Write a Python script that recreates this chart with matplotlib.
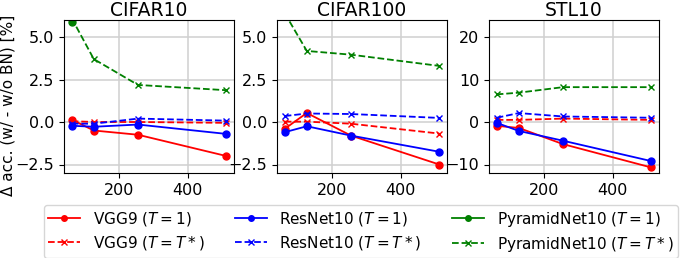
import matplotlib
matplotlib.use("Agg")
import matplotlib.pyplot as plt

widths = [64, 128, 256, 512]
datasets = ["CIFAR10", "CIFAR100", "STL10"]
ylims = [(-3, 6), (-3, 6), (-12, 24)]

# values per dataset (PyramidNet10 T=1 lies mostly above the visible range)
cifar10 = {
    "vgg_t1": [0.14, -0.5, -0.75, -2.0],
    "vgg_ts": [0.05, 0.0, 0.0, -0.05],
    "res_t1": [-0.22, -0.28, -0.15, -0.7],
    "res_ts": [-0.1, -0.1, 0.2, 0.08],
    "pyr_t1": [5.9, 12.0, 14.0, 15.0],
    "pyr_ts": [6.1, 3.7, 2.18, 1.87],
}
cifar100 = {
    "vgg_t1": [-0.4, 0.53, -0.8, -2.5],
    "vgg_ts": [0.02, 0.02, -0.1, -0.68],
    "res_t1": [-0.6, -0.25, -0.8, -1.75],
    "res_ts": [0.35, 0.5, 0.47, 0.24],
    "pyr_t1": [12.0, 14.0, 15.0, 16.0],
    "pyr_ts": [6.4, 4.18, 3.96, 3.3],
}
stl10 = {
    "vgg_t1": [-0.9, -1.4, -5.2, -10.7],
    "vgg_ts": [0.5, 0.5, 0.8, 0.5],
    "res_t1": [-0.2, -2.1, -4.4, -9.2],
    "res_ts": [1.0, 2.1, 1.3, 1.0],
    "pyr_t1": [30.0, 32.0, 34.0, 35.0],
    "pyr_ts": [6.5, 6.9, 8.2, 8.2],
}
all_data = [cifar10, cifar100, stl10]

series = [
    ("vgg_t1", "VGG9 ($T = 1$)", "red", "-", "o"),
    ("vgg_ts", "VGG9 ($T = T*$)", "red", "--", "x"),
    ("res_t1", "ResNet10 ($T = 1$)", "blue", "-", "o"),
    ("res_ts", "ResNet10 ($T = T*$)", "blue", "--", "x"),
    ("pyr_t1", "PyramidNet10 ($T = 1$)", "green", "-", "o"),
    ("pyr_ts", "PyramidNet10 ($T = T*$)", "green", "--", "x"),
]

plt.rcParams["font.family"] = ["DejaVu Sans"]
plt.rcParams["font.size"] = 11.5

fig = plt.figure(figsize=(6.85, 2.58), dpi=100)
lefts = [64, 277, 489]
W, H = 685, 258
axw = 170
top, bottom = 20, 173
handles = []
for i, (name, d, yl) in enumerate(zip(datasets, all_data, ylims)):
    ax = fig.add_axes([lefts[i] / W, 1 - bottom / H, axw / W, (bottom - top) / H])
    for key, lab, col, ls, mk in series:
        h, = ax.plot(widths, d[key], color=col, linestyle=ls, marker=mk,
                     markersize=5, linewidth=1.3, label=lab)
        if i == 0:
            handles.append(h)
    ax.set_ylim(*yl)
    ax.set_xticks([200, 400])
    if i < 2:
        ax.set_yticks([-2.5, 0.0, 2.5, 5.0])
    else:
        ax.set_yticks([-10, 0, 10, 20])
    ax.tick_params(labelsize=11.5)
    ax.grid(True, color="#d0d0d0", linewidth=1.1)
    ax.set_axisbelow(True)
    ax.set_title(name, fontsize=13.5, pad=1.5)
    if i == 0:
        ax.set_ylabel("Δ acc. (w/ - w/o BN) [%]", fontsize=11)
        ax.yaxis.set_label_coords(-0.285, 0.445)

fig.legend(handles, [h.get_label() for h in handles], loc="upper center",
           bbox_to_anchor=(361 / W, 1 - 205 / H), ncol=3,
           fontsize=11, frameon=True, handlelength=2.1, columnspacing=2.0,
           markerscale=0.8, labelspacing=0.4, borderpad=0.3, borderaxespad=0.0)

fig.savefig("out.png", dpi=100)
